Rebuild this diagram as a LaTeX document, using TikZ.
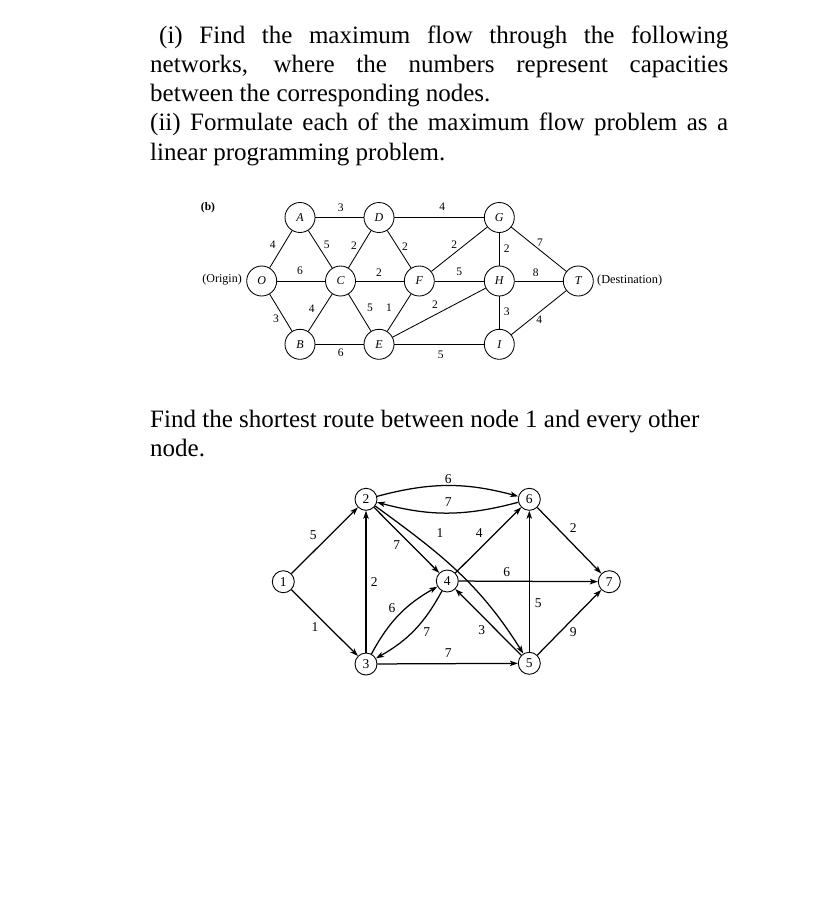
\documentclass[tikz,border=0pt]{standalone}
\usepackage{fontspec}
\setmainfont{Liberation Serif}
\usetikzlibrary{arrows.meta}
\begin{document}
\begin{tikzpicture}[x=1pt,y=-1pt,
  nA/.style={circle,draw,line width=0.85pt,minimum size=30pt,inner sep=0pt,font=\fontsize{12}{12}\selectfont\itshape},
  eA/.style={line width=0.85pt},
  lA/.style={inner sep=0pt,font=\fontsize{11.5}{12}\selectfont},
  nB/.style={circle,draw,line width=0.9pt,minimum size=22pt,inner sep=0pt,font=\fontsize{13.5}{14}\selectfont},
  eB/.style={line width=1.25pt,-{Stealth[length=8pt,width=5.5pt,inset=2pt]}},
  lB/.style={inner sep=0pt,font=\fontsize{13.5}{14}\selectfont},
]
\useasboundingbox[fill=white] (0,0) rectangle (828,902);

% texts
\node[anchor=base west,inner sep=0pt] (q1) at (150,43) {\parbox[t]{578pt}{\fontsize{25}{29.25}\selectfont\hspace*{9pt}(i) Find the maximum flow through the following\linebreak networks, where the numbers represent capacities\linebreak between the corresponding nodes.\\(ii) Formulate each of the maximum flow problem as a\linebreak linear programming problem.}};
\node[anchor=base west,inner sep=0pt] (q2) at (150,427) {\parbox[t]{600pt}{\raggedright\fontsize{25}{29.25}\selectfont Find the shortest route between node 1 and every other\\node.}};

% network (b)
\node[nA] (O) at (261.7,281) {O};
\node[nA] (A) at (300,217.5) {A};
\node[nA] (D) at (379,217.5) {D};
\node[nA] (G) at (499.3,217.5) {G};
\node[nA] (C) at (340.5,281) {C};
\node[nA] (F) at (419.3,281) {F};
\node[nA] (H) at (499.3,281) {H};
\node[nA] (T) at (578.3,281) {T};
\node[nA] (B) at (300,344.3) {B};
\node[nA] (E) at (379,344.3) {E};
\node[nA] (I) at (499.3,344.3) {I};

\node[lA,font=\fontsize{11.5}{12}\selectfont\bfseries] (bl) at (208,208) {(b)};
\node[lA,anchor=east,font=\fontsize{12}{12}\selectfont] (orig) at (242,280) {(Origin)};
\node[lA,anchor=west,font=\fontsize{12.3}{12}\selectfont] (dest) at (597,281) {(Destination)};

\foreach \a/\b in {O/A,O/C,O/B,A/D,A/C,B/C,B/E,C/D,C/F,C/E,D/F,D/G,F/G,F/H,E/F,E/H,E/I,G/H,G/T,H/T,H/I,I/T}
  \draw[eA] (\a) -- (\b);

\node[lA] (la1) at (340.7,207.7) {3};
\node[lA] (la2) at (442.3,206.7) {4};
\node[lA] (la3) at (272.7,244.3) {4};
\node[lA] (la4) at (326.7,245) {5};
\node[lA] (la5) at (354,245.7) {2};
\node[lA] (la6) at (405,246.7) {2};
\node[lA] (la7) at (454.3,244.3) {2};
\node[lA] (la8) at (506.7,248.3) {2};
\node[lA] (la9) at (540,242.7) {7};
\node[lA] (la10) at (300,271) {6};
\node[lA] (la11) at (379,272.3) {2};
\node[lA] (la12) at (459.3,271.7) {5};
\node[lA] (la13) at (535.7,272.3) {8};
\node[lA] (la14) at (276,319) {3};
\node[lA] (la15) at (311.7,308.3) {4};
\node[lA] (la16) at (370,307.7) {5};
\node[lA] (la17) at (389,307.7) {1};
\node[lA] (la18) at (435,305) {2};
\node[lA] (la19) at (506.7,311.7) {3};
\node[lA] (la20) at (539.3,320) {4};
\node[lA] (la21) at (340.7,352.3) {6};
\node[lA] (la22) at (440.7,354.3) {5};

% shortest route network
\node[nB] (n1) at (283.3,581.7) {1};
\node[nB] (n2) at (366,499.3) {2};
\node[nB] (n3) at (366,664) {3};
\node[nB] (n4) at (447.3,581) {4};
\node[nB] (n5) at (529.3,663.3) {5};
\node[nB] (n6) at (529.3,499.3) {6};
\node[nB] (n7) at (609.3,581.7) {7};

\draw[eB] (n1) -- (n2);
\draw[eB] (n1) -- (n3);
\draw[eB] (n3) -- (n2);
\draw[eB] (n2) -- (n4);
\draw[eB] (n2) to[bend left=15] (n6);
\draw[eB] (n6) to[bend left=15] (n2);
\draw[eB] (n2) to[out=-36,in=122] (n5);
\draw[eB] (n3) to[bend left=16] (n4);
\draw[eB] (n4) to[bend left=16] (n3);
\draw[eB] (n3) -- (n5);
\draw[eB] (n4) -- (n6);
\draw[eB] (n4) -- (n7);
\draw[eB] (n5) -- (n4);
\draw[eB] (n5) -- (n6);
\draw[eB] (n5) -- (n7);
\draw[eB] (n6) -- (n7);

\node[lB] (lb1) at (313.3,535) {5};
\node[lB] (lb2) at (315,626.7) {1};
\node[lB] (lb3) at (374.3,581.7) {2};
\node[lB] (lb4) at (396.7,545) {7};
\node[lB] (lb5) at (448.3,479.3) {6};
\node[lB] (lb6) at (448.3,502.3) {7};
\node[lB] (lb7) at (440,533.3) {1};
\node[lB] (lb8) at (479.3,533.3) {4};
\node[lB] (lb9) at (506.7,571.7) {6};
\node[lB] (lb10) at (538.3,602.7) {5};
\node[lB] (lb11) at (481.7,630) {3};
\node[lB] (lb12) at (573.3,631.7) {9};
\node[lB] (lb13) at (573.3,528.3) {2};
\node[lB] (lb14) at (392,608.3) {6};
\node[lB] (lb15) at (426.7,631.7) {7};
\node[lB] (lb16) at (448.3,652.7) {7};
\end{tikzpicture}
\end{document}
